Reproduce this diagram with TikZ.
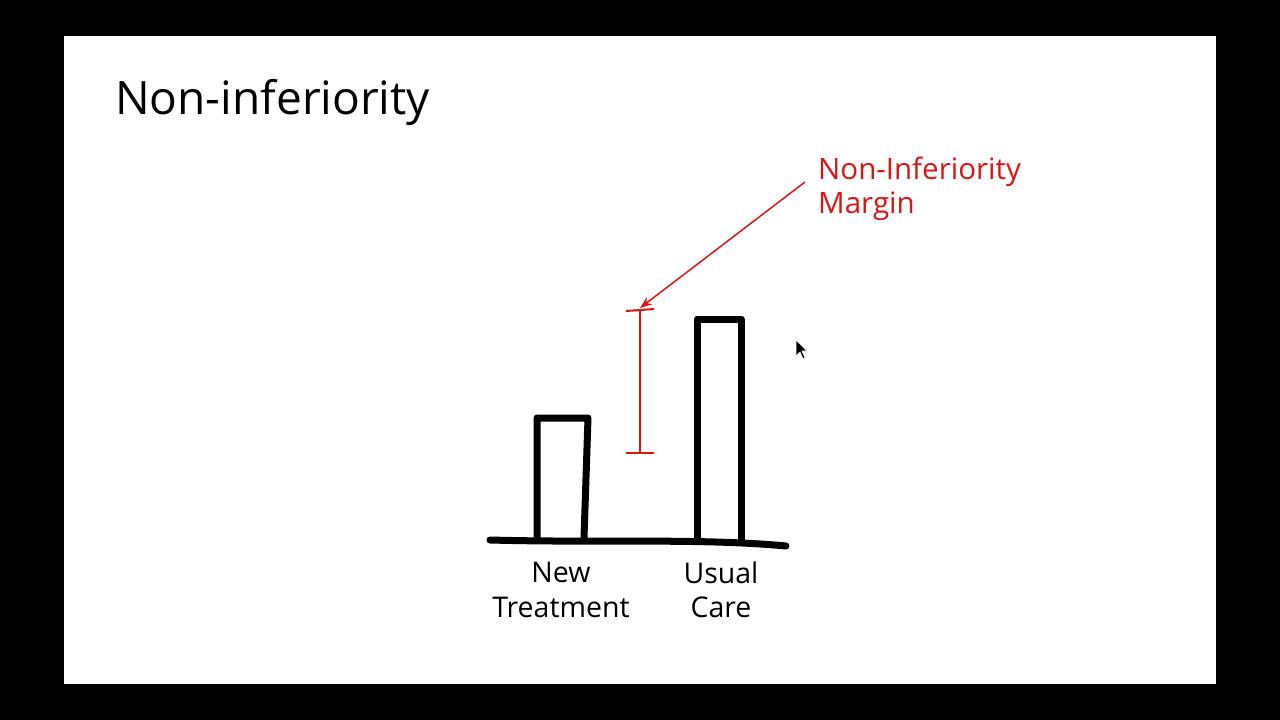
\documentclass[tikz,border=0pt]{standalone}
\usepackage{fontspec}
\setmainfont{Open Sans}
\usetikzlibrary{arrows.meta}
\definecolor{mred}{RGB}{220,20,20}
\begin{document}
\begin{tikzpicture}[x=1pt,y=-1pt,
  bar/.style={line width=7pt,line join=round,line cap=round},
  lbl/.style={font=\fontsize{28.5}{34.5}\selectfont,align=center,inner sep=0pt},
  redl/.style={mred,line width=2pt}]
\fill[black] (0,0) rectangle (1280,720);
\fill[white] (64,36) rectangle (1216,684);
\node[anchor=west,inner sep=0pt,font=\fontsize{46}{54}\selectfont] (title) at (115,102) {Non-inferiority};
% baseline and bars
\draw[bar] (490,540) .. controls (600,543) and (700,538) .. (786,546);
\draw[bar] (537,538) -- (537,418) -- (588,418) -- (584,538);
\draw[bar] (697,538) -- (697,319) -- (741,319) -- (741,540);
% bracket
\draw[redl] (640,310) -- (640,453);
\draw[redl] (626,311) -- (654,309);
\draw[redl] (626,453) -- (654,453);
\coordinate (tip) at (640,308);
\node[anchor=west,lbl,align=left,text=mred,font=\fontsize{29.5}{34.5}\selectfont] (marg) at (818,189) {Non-Inferiority\\Margin};
\draw[mred,line width=1.5pt,-{Stealth[length=12pt,width=9pt]}] (805,182) -- (tip);
\node[lbl] (nt) at (561,590) {New\\Treatment};
\node[lbl] (uc) at (721,590) {Usual\\Care};
% cursor
\filldraw[black,draw=white,line width=0.6pt] (796,340) -- (796,356) -- (800,352) -- (803,359) -- (805,358) -- (802,351) -- (807,351) -- cycle;
\end{tikzpicture}
\end{document}
